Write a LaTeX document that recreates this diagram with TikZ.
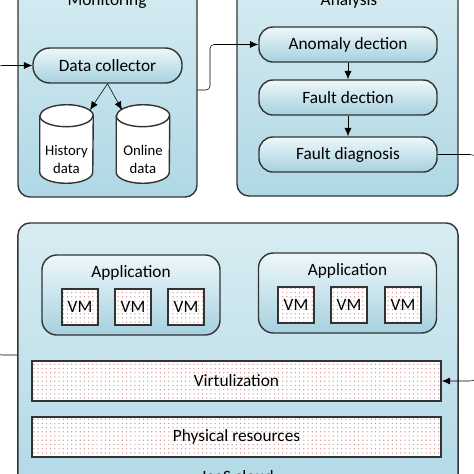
\documentclass[tikz,border=0pt]{standalone}
\usepackage{fontspec}
\setmainfont{Carlito}
\usetikzlibrary{patterns, arrows.meta}
\definecolor{paneltop}{HTML}{D8ECF2}
\definecolor{panelbottom}{HTML}{AFD8E5}
\definecolor{boxtop}{HTML}{EEF7FA}
\definecolor{boxbottom}{HTML}{A5D1DF}
\definecolor{dotcolor}{HTML}{D49494}
\newcommand{\storecylinder}[1]{%
    \draw[fill=white, line width=1pt, draw=black!80] ([yshift=-0.275cm]#1.north west) -- ([yshift=0.275cm]#1.south west)
        arc[start angle=180, end angle=360, x radius=0.6625cm, y radius=0.275cm] -- ([yshift=-0.275cm]#1.north east)
        arc[start angle=0, end angle=180, x radius=0.6625cm, y radius=0.275cm] -- cycle;
    \draw[line width=1pt, draw=black!80] ([yshift=-0.275cm]#1.north west) arc[start angle=180, end angle=360, x radius=0.6625cm, y radius=0.275cm];}

\begin{document}
        \begin{tikzpicture}[x=0.025cm, y=-0.025cm, >={Latex[length=6pt, width=5pt]},
                font=\fontsize{12.3}{14.8}\selectfont,
                panel/.style={draw=black!80, line width=1pt, rounded corners=0.3cm, top color=paneltop, bottom color=panelbottom},
                group/.style={draw=black!80, line width=1pt, rounded corners=0.375cm, top color=boxtop, bottom color=boxbottom, minimum width=4.45cm, minimum height=2cm},
                procbox/.style={draw=black!80, line width=1pt, rounded corners=0.35cm, top color=boxtop, bottom color=boxbottom, minimum width=4.45cm, minimum height=0.875cm},
                store/.style={inner sep=0pt, minimum width=1.325cm, minimum height=1.95cm},
                storetext/.style={align=center, font=\fontsize{10.5}{12.8}\selectfont},
                vm/.style={draw=black!80, line width=0.8pt, preaction={fill=white}, pattern=dots, pattern color=dotcolor, minimum size=0.9cm},
                layer/.style={draw=black!80, line width=1pt, preaction={fill=white}, pattern=dots, pattern color=dotcolor, minimum width=10.225cm, minimum height=1cm},
                title/.style={anchor=base}]
            %\draw[lightgray] (0, 0) grid[step=50] (474, 474);
            \clip (0, 0) rectangle (474, 474);
            \node[panel, minimum width=4.475cm, minimum height=5.675cm] (monitor) at (107.5, 83.5) {};
            \node[panel, minimum width=5.525cm, minimum height=5.65cm] (analysis) at (347.5, 83) {};
            \node[panel, minimum width=11cm, minimum height=7.175cm] (iaas) at (238, 366.5) {};
            \node[title] (monitor title) at (107, 5) {Monitoring};
            \node[title] (analysis title) at (349, 5) {Analysis};
            \node[title] (iaas title) at (238, 482) {IaaS cloud};

            \node[procbox, minimum width=3.725cm, rounded corners=0.42cm] (collector) at (107.5, 65.5) {Data collector};
            \node[store] (history) at (66.5, 144) {};
            \node[store] (online) at (143, 144) {};
            \storecylinder{history}
            \storecylinder{online}
            \node[storetext] (history text) at (66.5, 159) {History\\data};
            \node[storetext] (online text) at (143, 159) {Online\\data};
            \draw[->] (collector.south) -- ([shift={(23.5, -34)}]history.center);
            \draw[->] (collector.south) -- ([shift={(-21, -34)}]online.center);

            \node[procbox] (anomaly) at (348, 44.5) {Anomaly dection};
            \node[procbox] (fault) at (348, 97.5) {Fault dection};
            \node[procbox] (diagnosis) at (348, 154.5) {Fault diagnosis};
            \draw[->] (anomaly) -- (fault);
            \draw[->] (fault) -- (diagnosis);

            \node[group] (app left) at (131, 295) {};
            \node[title] (app left title) at (131, 277) {Application};
            \node[vm] (vm a) at (80, 307) {VM};
            \node[vm] (vm b) at (133, 307) {VM};
            \node[vm] (vm c) at (186, 307) {VM};
            \node[group] (app right) at (347.5, 293) {};
            \node[title] (app right title) at (347.5, 275) {Application};
            \node[vm] (vm d) at (296, 305) {VM};
            \node[vm] (vm e) at (349, 305) {VM};
            \node[vm] (vm f) at (403, 305) {VM};

            \node[layer] (virt) at (236.5, 381) {Virtulization};
            \node[layer] (phys) at (236.5, 437) {Physical resources};

            \draw[->, rounded corners=0.1cm] (monitor.east |- 0, 90) -- (210, 90) -- (210, 44.5) -- (anomaly.west);
            \draw[->, rounded corners=0.25cm] (iaas.west |- 0, 355) -| (-8, 200) |- (collector.west);
            \draw[->, rounded corners=0.25cm] (diagnosis.east) -| (480, 300) |- (virt.east);
        \end{tikzpicture}
\end{document}
